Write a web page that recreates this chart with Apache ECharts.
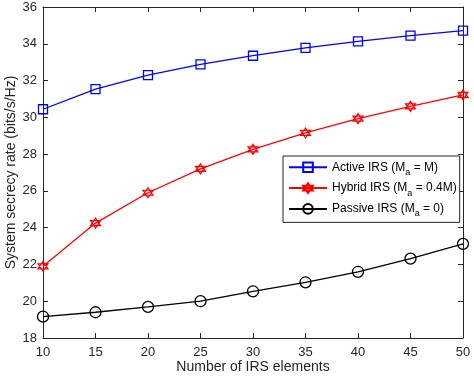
<!DOCTYPE html>
<html><head><meta charset="utf-8">
<script src="https://cdn.jsdelivr.net/npm/echarts@6/dist/echarts.min.js"></script>
<style>html,body{margin:0;padding:0;background:#fff}#c{width:474px;height:380px}</style>
</head><body><div id="c"></div>
<script>
const xValues = [10, 15, 20, 25, 30, 35, 40, 45, 50];
const activeIRS = [30.44, 31.53, 32.29, 32.88, 33.35, 33.78, 34.13, 34.44, 34.71];
const hybridIRS = [21.9, 24.25, 25.9, 27.2, 28.26, 29.15, 29.93, 30.6, 31.22];
const passiveIRS = [19.16, 19.4, 19.69, 20.0, 20.54, 21.03, 21.6, 22.32, 23.12];
const seriesNames = ['Active IRS (M_a = M)', 'Hybrid IRS (M_a = 0.4M)', 'Passive IRS (M_a = 0)'];

const font = 'Liberation Sans, Arial, sans-serif';
const hexagram = 'path://M0,-10L8.66,5L-8.66,5Z M0,10L8.66,-5L-8.66,-5Z';
const pair = v => xValues.map((x, i) => [x, v[i]]);
const axisCommon = {
  axisLine: { show: true, lineStyle: { color: '#262626', width: 1 } },
  axisTick: { show: true, inside: true, length: 5, lineStyle: { color: '#262626' } },
  splitLine: { show: false }
};
const chart = echarts.init(document.getElementById('c'));
chart.setOption({
  animation: false,
  backgroundColor: '#fff',
  grid: { left: 43, right: 11, top: 7, bottom: 42, containLabel: false, outerBoundsMode: 'none' },
  xAxis: [
    Object.assign({ type: 'value', min: 10, max: 50, interval: 5, position: 'bottom',
      name: 'Number of IRS elements', nameLocation: 'middle', nameGap: 22, nameMoveOverlap: false,
      nameTextStyle: { fontFamily: font, fontSize: 14, color: '#262626' },
      axisLabel: { fontFamily: font, fontSize: 13, color: '#262626', margin: 8 } }, axisCommon),
    Object.assign({ type: 'value', min: 10, max: 50, interval: 5, position: 'top',
      axisLabel: { show: false } }, axisCommon)
  ],
  yAxis: [
    Object.assign({ type: 'value', min: 18, max: 36, interval: 2, position: 'left',
      name: 'System secrecy rate (bits/s/Hz)', nameLocation: 'middle', nameGap: 25, nameMoveOverlap: false,
      nameTextStyle: { fontFamily: font, fontSize: 14, color: '#262626' },
      axisLabel: { fontFamily: font, fontSize: 13, color: '#262626', margin: 6 } }, axisCommon),
    Object.assign({ type: 'value', min: 18, max: 36, interval: 2, position: 'right',
      axisLabel: { show: false } }, axisCommon)
  ],
  legend: {
    left: 283, top: 156, orient: 'vertical',
    backgroundColor: '#fff', borderColor: '#262626', borderWidth: 1,
    padding: [4, 3, 4, 5], itemGap: 4, itemWidth: 38, itemHeight: 12,
    textStyle: { fontFamily: font, fontSize: 12, color: '#000',
      rich: { n: { fontFamily: font, fontSize: 12, color: '#000' },
              s: { fontFamily: font, fontSize: 9, color: '#000', padding: [10, 0, 0, 0] } } },
    formatter: name => {
      const m = name.match(/^(.*)\(M_a(.*)\)$/);
      return '{n|' + m[1] + '(M}{s|a}{n|' + m[2] + ')}';
    },
    data: seriesNames
  },
  series: [
    { name: seriesNames[0], type: 'line', data: pair(activeIRS), symbol: 'rect', symbolSize: 9,
      color: '#0000ff', lineStyle: { width: 1.3, color: '#0000ff' },
      itemStyle: { color: 'none', borderColor: '#0000ff', borderWidth: 1.3 } },
    { name: seriesNames[1], type: 'line', data: pair(hybridIRS), symbol: hexagram, symbolSize: 10,
      color: '#ff0000', lineStyle: { width: 1.3, color: '#ff0000' },
      itemStyle: { color: 'none', borderColor: '#ff0000', borderWidth: 1.2 } },
    { name: seriesNames[2], type: 'line', data: pair(passiveIRS), symbol: 'circle', symbolSize: 11,
      color: '#000', lineStyle: { width: 1.3, color: '#000' },
      itemStyle: { color: 'none', borderColor: '#000', borderWidth: 1.3 } }
  ]
});
</script></body></html>
